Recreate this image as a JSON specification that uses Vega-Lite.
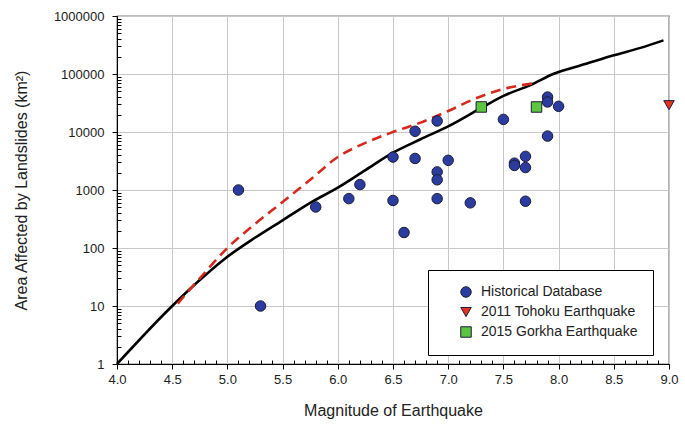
{
  "$schema": "https://vega.github.io/schema/vega-lite/v6.json",
  "width": 552,
  "height": 348,
  "autosize": {"type": "none"},
  "padding": {"left": 117, "top": 16, "right": 16, "bottom": 68},
  "background": "white",
  "config": {
    "font": "Liberation Sans",
    "view": {"stroke": "black", "strokeWidth": 1.2},
    "axis": {
      "domainColor": "black",
      "tickColor": "black",
      "labelColor": "#222",
      "labelFontSize": 13,
      "titleFontSize": 16,
      "titleFontWeight": "normal",
      "titleColor": "#222",
      "gridColor": "#c8c8c8",
      "gridWidth": 1,
      "labelFlush": false,
      "labelOverlap": false
    }
  },
  "datasets": {
    "black": [
      {"m": 4.0, "a": 1}, {"m": 4.5, "a": 10}, {"m": 4.75, "a": 28}, {"m": 4.98, "a": 66},
      {"m": 5.25, "a": 150}, {"m": 5.5, "a": 300}, {"m": 5.75, "a": 600}, {"m": 6.0, "a": 1100},
      {"m": 6.25, "a": 2200}, {"m": 6.5, "a": 4400}, {"m": 6.75, "a": 7500}, {"m": 7.0, "a": 12500},
      {"m": 7.3, "a": 26000}, {"m": 7.5, "a": 42000}, {"m": 7.75, "a": 65000}, {"m": 7.95, "a": 100000},
      {"m": 8.25, "a": 150000}, {"m": 8.5, "a": 210000}, {"m": 8.75, "a": 285000}, {"m": 8.95, "a": 380000}
    ],
    "red": [
      {"m": 4.55, "a": 11}, {"m": 4.75, "a": 30}, {"m": 5.0, "a": 100}, {"m": 5.25, "a": 260},
      {"m": 5.5, "a": 620}, {"m": 5.75, "a": 1500}, {"m": 6.0, "a": 3700}, {"m": 6.25, "a": 6500},
      {"m": 6.5, "a": 10000}, {"m": 6.75, "a": 14500}, {"m": 7.0, "a": 23000}, {"m": 7.25, "a": 38000},
      {"m": 7.5, "a": 55000}, {"m": 7.8, "a": 70000}
    ],
    "pts": [
      {"m": 5.1, "a": 1000, "g": "Historical Database"},
      {"m": 5.3, "a": 10, "g": "Historical Database"},
      {"m": 5.8, "a": 510, "g": "Historical Database"},
      {"m": 6.1, "a": 710, "g": "Historical Database"},
      {"m": 6.2, "a": 1240, "g": "Historical Database"},
      {"m": 6.5, "a": 3700, "g": "Historical Database"},
      {"m": 6.5, "a": 660, "g": "Historical Database"},
      {"m": 6.6, "a": 185, "g": "Historical Database"},
      {"m": 6.7, "a": 10300, "g": "Historical Database"},
      {"m": 6.7, "a": 3500, "g": "Historical Database"},
      {"m": 6.9, "a": 15500, "g": "Historical Database"},
      {"m": 6.9, "a": 2050, "g": "Historical Database"},
      {"m": 6.9, "a": 1500, "g": "Historical Database"},
      {"m": 6.9, "a": 710, "g": "Historical Database"},
      {"m": 7.0, "a": 3250, "g": "Historical Database"},
      {"m": 7.2, "a": 600, "g": "Historical Database"},
      {"m": 7.5, "a": 16500, "g": "Historical Database"},
      {"m": 7.6, "a": 2900, "g": "Historical Database"},
      {"m": 7.6, "a": 2650, "g": "Historical Database"},
      {"m": 7.7, "a": 3800, "g": "Historical Database"},
      {"m": 7.7, "a": 2440, "g": "Historical Database"},
      {"m": 7.7, "a": 640, "g": "Historical Database"},
      {"m": 7.9, "a": 40000, "g": "Historical Database"},
      {"m": 7.9, "a": 33000, "g": "Historical Database"},
      {"m": 7.9, "a": 8500, "g": "Historical Database"},
      {"m": 8.0, "a": 27700, "g": "Historical Database"},
      {"m": 9.0, "a": 29000, "g": "2011 Tohoku Earthquake"},
      {"m": 7.3, "a": 27000, "g": "2015 Gorkha Earthquake"},
      {"m": 7.8, "a": 27000, "g": "2015 Gorkha Earthquake"}
    ]
  },
  "layer": [
    {
      "data": {"name": "black"},
      "mark": {"type": "line", "color": "black", "strokeWidth": 2.6, "interpolate": "monotone"},
      "encoding": {
        "x": {
          "field": "m", "type": "quantitative",
          "scale": {"domain": [4, 9], "nice": false, "zero": false},
          "axis": {
            "orient": "bottom",
            "tickCount": 500,
            "values": [4.0, 4.1, 4.2, 4.3, 4.4, 4.5, 4.6, 4.7, 4.8, 4.9, 5.0, 5.1, 5.2, 5.3, 5.4, 5.5, 5.6, 5.7, 5.8, 5.9, 6.0, 6.1, 6.2, 6.3, 6.4, 6.5, 6.6, 6.7, 6.8, 6.9, 7.0, 7.1, 7.2, 7.3, 7.4, 7.5, 7.6, 7.7, 7.8, 7.9, 8.0, 8.1, 8.2, 8.3, 8.4, 8.5, 8.6, 8.7, 8.8, 8.9, 9.0],
            "labelExpr": "abs(datum.value * 2 - round(datum.value * 2)) < 0.001 ? format(datum.value, '.1f') : ''",
            "tickSize": {"condition": {"test": "abs(datum.value * 2 - round(datum.value * 2)) < 0.001", "value": 5}, "value": -4},
            "gridColor": {"condition": {"test": "abs(datum.value * 2 - round(datum.value * 2)) < 0.001", "value": "#c8c8c8"}, "value": "rgba(255,255,255,0)"},
            "labelPadding": 4,
            "title": "Magnitude of Earthquake", "titlePadding": 16,
            "grid": true
          }
        },
        "y": {
          "field": "a", "type": "quantitative",
          "scale": {"type": "log", "domain": [1, 1000000], "nice": false},
          "axis": {
            "orient": "left",
            "tickCount": 500,
            "values": [1, 2, 3, 4, 5, 6, 7, 8, 9, 10, 20, 30, 40, 50, 60, 70, 80, 90, 100, 200, 300, 400, 500, 600, 700, 800, 900, 1000, 2000, 3000, 4000, 5000, 6000, 7000, 8000, 9000, 10000, 20000, 30000, 40000, 50000, 60000, 70000, 80000, 90000, 100000, 200000, 300000, 400000, 500000, 600000, 700000, 800000, 900000, 1000000],
            "labelExpr": "indexof(['1','10','100','1000','10000','100000','1000000'], format(datum.value, 'd')) >= 0 ? format(datum.value, 'd') : ''",
            "tickSize": {"condition": {"test": "indexof(['1','10','100','1000','10000','100000','1000000'], format(datum.value, 'd')) >= 0", "value": 5}, "value": -4},
            "gridColor": {"condition": {"test": "indexof(['1','10','100','1000','10000','100000','1000000'], format(datum.value, 'd')) >= 0", "value": "#c8c8c8"}, "value": "rgba(255,255,255,0)"},
            "labelPadding": 8,
            "title": "Area Affected by Landslides (km²)", "titlePadding": 24,
            "grid": true
          }
        }
      }
    },
    {
      "data": {"name": "red"},
      "mark": {"type": "line", "color": "#d42a1e", "strokeWidth": 2.6, "strokeDash": [10, 6], "interpolate": "monotone"},
      "encoding": {
        "x": {"field": "m", "type": "quantitative"},
        "y": {"field": "a", "type": "quantitative"}
      }
    },
    {
      "data": {"name": "pts"},
      "mark": {"type": "point", "filled": true, "opacity": 1, "stroke": "#1c1c3a", "strokeWidth": 1},
      "encoding": {
        "x": {"field": "m", "type": "quantitative"},
        "y": {"field": "a", "type": "quantitative"},
        "color": {
          "field": "g", "type": "nominal",
          "scale": {"domain": ["Historical Database", "2011 Tohoku Earthquake", "2015 Gorkha Earthquake"], "range": ["#2b3c9e", "#e3321e", "#5cc43e"]},
          "legend": {
            "title": null, "orient": "none", "legendX": 311, "legendY": 254,
            "fillColor": "white", "strokeColor": "black", "padding": 15,
            "labelFontSize": 14, "labelColor": "#222", "labelOffset": 8,
            "symbolOffset": 16, "symbolSize": 110, "symbolStrokeColor": "#1c1c3a", "symbolStrokeWidth": 1,
            "rowPadding": 5
          }
        },
        "shape": {
          "field": "g", "type": "nominal",
          "scale": {"domain": ["Historical Database", "2011 Tohoku Earthquake", "2015 Gorkha Earthquake"], "range": ["circle", "triangle-down", "square"]},
          "legend": null
        },
        "size": {"value": 110}
      }
    }
  ]
}
